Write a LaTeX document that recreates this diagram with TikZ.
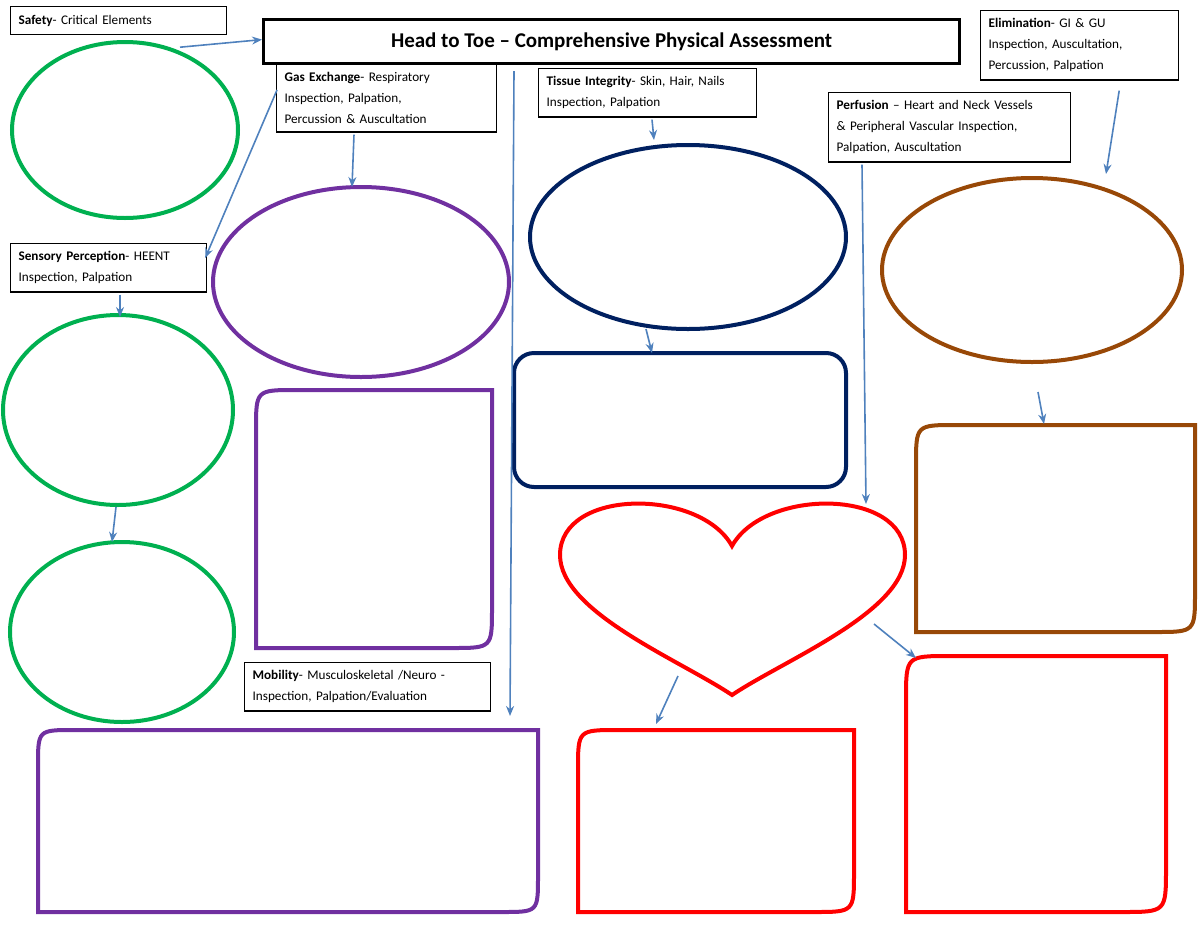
\documentclass[tikz,border=0pt]{standalone}
\usepackage{fontspec}
\setmainfont{Carlito}
\usetikzlibrary{shapes.geometric,arrows.meta,calc}
\definecolor{grn}{HTML}{00B050}
\definecolor{purp}{HTML}{7030A0}
\definecolor{navy}{HTML}{002060}
\definecolor{brwn}{HTML}{984807}
\definecolor{arw}{HTML}{4F81BD}
\tikzset{
  lbl/.style={draw=black,line width=0.6pt,anchor=north west,align=left,inner sep=4pt,
    font=\fontsize{6.6}{10.5}\selectfont},
  oval/.style={ellipse,draw=#1,line width=2pt,inner sep=0pt},
  link/.style={-{Stealth[length=5pt,width=4pt]},draw=arw,line width=0.8pt}
}
% rectangle with round top-left and bottom-right corners
\newcommand*{\rdbox}[6]{
  \draw[#5,line width=2pt] (#1,#4) -- (#1,#2+#6) .. controls (#1,#2) .. (#1+#6,#2)
    -- (#3,#2) -- (#3,#4-#6) .. controls (#3,#4) .. (#3-#6,#4) -- cycle;
}
\begin{document}
\begin{tikzpicture}[x=0.5pt,y=-0.5pt]
  \useasboundingbox (0,0) rectangle (1200,927);

  \node [draw=black,line width=1.6pt,minimum width=348pt,minimum height=22pt,anchor=north west,
    font=\bfseries\fontsize{10.5}{12}\selectfont] (Title) at (262,18) {Head to Toe -- Comprehensive Physical Assessment};

  \node [lbl,text width=100pt,minimum height=14pt] (Safety) at (10,6) {\textbf{Safety}- Critical Elements};
  \node [lbl,text width=102pt] (Gas) at (276,64) {\textbf{Gas Exchange}- Respiratory\\Inspection, Palpation,\\Percussion \& Auscultation};
  \node [lbl,text width=101pt] (Tissue) at (538,68) {\textbf{Tissue Integrity}- Skin, Hair, Nails\\Inspection, Palpation};
  \node [lbl,text width=91pt] (Elim) at (980,10) {\textbf{Elimination}- GI \& GU\\Inspection, Auscultation,\\Percussion, Palpation};
  \node [lbl,text width=113pt] (Perf) at (828,92) {\textbf{Perfusion} -- Heart and Neck Vessels\\\& Peripheral Vascular Inspection,\\Palpation, Auscultation};
  \node [lbl,text width=90pt] (Sens) at (10,243) {\textbf{Sensory Perception}- HEENT\\Inspection, Palpation};
  \node [lbl,text width=115pt] (Mob) at (244,662) {\textbf{Mobility}- Musculoskeletal /Neuro -\\Inspection, Palpation/Evaluation};

  \node [oval=grn,minimum width=113pt,minimum height=88pt] (SafeOval) at (125,130) {};
  \node [oval=grn,minimum width=115pt,minimum height=95pt] (SensOval) at (118,410) {};
  \node [oval=grn,minimum width=112pt,minimum height=90pt] (SensOvalB) at (122,632) {};
  \node [oval=purp,minimum width=148pt,minimum height=95pt] (GasOval) at (361,282) {};
  \node [oval=navy,minimum width=158pt,minimum height=92pt] (TissOval) at (688,237) {};
  \node [oval=brwn,minimum width=150pt,minimum height=92pt] (ElimOval) at (1032,270) {};

  \rdbox{256}{390}{492}{648}{purp}{40}
  \rdbox{38}{730}{538}{912}{purp}{36}
  \draw [navy,line width=2pt,rounded corners=10pt] (514,353) rectangle (846,487);
  \rdbox{916}{425}{1195}{632}{brwn}{40}
  \rdbox{906}{656}{1166}{912}{red}{44}
  \rdbox{578}{730}{854}{912}{red}{40}

  % heart
  \draw [red,line width=2pt] (732,546) .. controls (700,488) and (560,488) .. (560,555)
    .. controls (560,612) and (680,660) .. (732,695)
    .. controls (784,660) and (905,612) .. (905,555)
    .. controls (905,488) and (764,488) .. cycle;
  \coordinate (HeartL) at (678,676);
  \coordinate (HeartR) at (874,624);
  \coordinate (HeartTop) at (866,504);
  \coordinate (MobEnd) at (510,716);
  \coordinate (BotRect) at (656,724);
  \coordinate (RightRect) at (916,658);
  \coordinate (NavyRect) at (652,353);
  \coordinate (BrwnRect) at (1044,424);

  \draw [link] ($(Safety.south west)+(170,12)$) -- ($(Title.west)+(0,-2)$);
  \draw [link] ($(Gas.north west)+(1,26)$) -- ($(Sens.north east)+(-2,15)$);
  \draw [link] ($(Gas.south west)+(78,2)$) -- ($(GasOval.north)+(-9,2)$);
  \draw [link] ($(Title.south west)+(252,6)$) -- (MobEnd);
  \draw [link] ($(Tissue.south west)+(114,2)$) -- ($(TissOval.north)+(-34,-3)$);
  \draw [link] ($(TissOval.south)+(-42,-2)$) -- (NavyRect);
  \draw [link] ($(Elim.south east)+(-60,10)$) -- ($(ElimOval.north)+(74,-2)$);
  \draw [link] ($(Perf.south west)+(34,2)$) -- (HeartTop);
  \draw [link] ($(ElimOval.south)+(6,28)$) -- (BrwnRect);
  \draw [link] ($(Sens.south west)+(110,2)$) -- ($(SensOval.north)+(2,4)$);
  \draw [link] ($(SensOval.south)+(-2,0)$) -- ($(SensOvalB.north)+(-10,2)$);
  \draw [link] (HeartL) -- (BotRect);
  \draw [link] (HeartR) -- (RightRect);
\end{tikzpicture}
\end{document}
